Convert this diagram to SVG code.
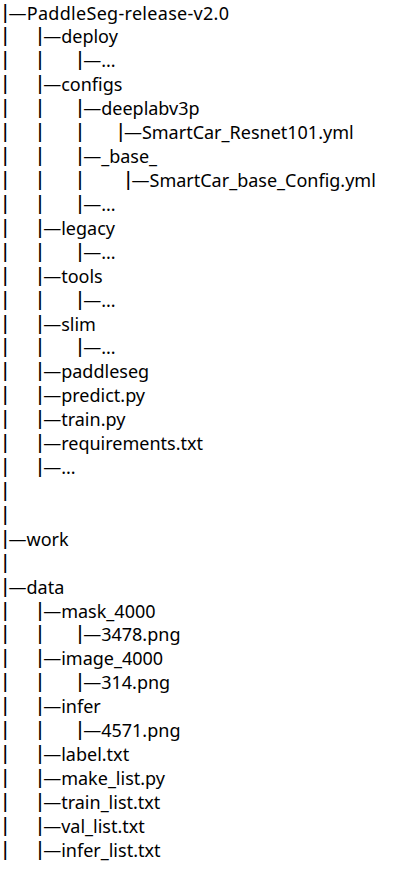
<svg xmlns="http://www.w3.org/2000/svg" width="401" height="872" viewBox="0 0 401 872">
<style>
text{font-family:"Noto Sans","Open Sans","DejaVu Sans",sans-serif;font-size:18px;fill:#000}
#connectors text{font-family:"Liberation Sans",Arial,sans-serif;font-size:21px}
</style>
<rect width="401" height="872" fill="#fff"/>
<g id="connectors" transform="translate(0,-1)">
<text y="19.5" x="2.6">|</text>
<text y="43.4" x="2.6">|<tspan x="37.3">|</tspan></text>
<text y="67.3" x="2.6">|<tspan x="37.3">|</tspan><tspan x="77.3">|</tspan></text>
<text y="91.3" x="2.6">|<tspan x="37.3">|</tspan></text>
<text y="115.2" x="2.6">|<tspan x="37.3">|</tspan><tspan x="77.3">|</tspan></text>
<text y="139.1" x="2.6">|<tspan x="37.3">|</tspan><tspan x="77.3">|</tspan><tspan x="118">|</tspan></text>
<text y="163.0" x="2.6">|<tspan x="37.3">|</tspan><tspan x="77.3">|</tspan></text>
<text y="186.9" x="2.6">|<tspan x="37.3">|</tspan><tspan x="77.3">|</tspan><tspan x="125.6">|</tspan></text>
<text y="210.9" x="2.6">|<tspan x="37.3">|</tspan><tspan x="77.3">|</tspan></text>
<text y="234.8" x="2.6">|<tspan x="37.3">|</tspan></text>
<text y="258.7" x="2.6">|<tspan x="37.3">|</tspan><tspan x="77.3">|</tspan></text>
<text y="282.6" x="2.6">|<tspan x="37.3">|</tspan></text>
<text y="306.5" x="2.6">|<tspan x="37.3">|</tspan><tspan x="77.3">|</tspan></text>
<text y="330.5" x="2.6">|<tspan x="37.3">|</tspan></text>
<text y="354.4" x="2.6">|<tspan x="37.3">|</tspan><tspan x="77.3">|</tspan></text>
<text y="378.3" x="2.6">|<tspan x="37.3">|</tspan></text>
<text y="402.2" x="2.6">|<tspan x="37.3">|</tspan></text>
<text y="426.1" x="2.6">|<tspan x="37.3">|</tspan></text>
<text y="450.1" x="2.6">|<tspan x="37.3">|</tspan></text>
<text y="474.0" x="2.6">|<tspan x="37.3">|</tspan></text>
<text y="497.9" x="2.6">|</text>
<text y="521.8" x="2.6">|</text>
<text y="545.7" x="2.6">|</text>
<text y="569.7" x="2.6">|</text>
<text y="593.6" x="2.6">|</text>
<text y="617.5" x="2.6">|<tspan x="37.3">|</tspan></text>
<text y="641.4" x="2.6">|<tspan x="37.3">|</tspan><tspan x="77.3">|</tspan></text>
<text y="665.3" x="2.6">|<tspan x="37.3">|</tspan></text>
<text y="689.3" x="2.6">|<tspan x="37.3">|</tspan><tspan x="77.3">|</tspan></text>
<text y="713.2" x="2.6">|<tspan x="37.3">|</tspan></text>
<text y="737.1" x="2.6">|<tspan x="37.3">|</tspan><tspan x="77.3">|</tspan></text>
<text y="761.0" x="2.6">|<tspan x="37.3">|</tspan></text>
<text y="784.9" x="2.6">|<tspan x="37.3">|</tspan></text>
<text y="808.9" x="2.6">|<tspan x="37.3">|</tspan></text>
<text y="832.8" x="2.6">|<tspan x="37.3">|</tspan></text>
<text y="856.7" x="2.6">|<tspan x="37.3">|</tspan></text>
</g>
<g id="n1"><text x="8.5" y="19.5" textLength="220.5" lengthAdjust="spacing">—PaddleSeg-release-v2.0</text></g>
<g id="n2"><text x="43.2" y="43.4">—deploy</text></g>
<g id="n3"><text x="83.2" y="67.3">—...</text></g>
<g id="n4"><text x="43.2" y="91.3">—configs</text></g>
<g id="n5"><text x="83.2" y="115.2">—deeplabv3p</text></g>
<g id="n6"><text x="123.9" y="139.1">—SmartCar_Resnet101.yml</text></g>
<g id="n7"><text x="83.2" y="163.0">—_base_</text></g>
<g id="n8"><text x="131.5" y="186.9">—SmartCar_base_Config.yml</text></g>
<g id="n9"><text x="83.2" y="210.9">—...</text></g>
<g id="n10"><text x="43.2" y="234.8">—legacy</text></g>
<g id="n11"><text x="83.2" y="258.7">—...</text></g>
<g id="n12"><text x="43.2" y="282.6">—tools</text></g>
<g id="n13"><text x="83.2" y="306.5">—...</text></g>
<g id="n14"><text x="43.2" y="330.5">—slim</text></g>
<g id="n15"><text x="83.2" y="354.4">—...</text></g>
<g id="n16"><text x="43.2" y="378.3">—paddleseg</text></g>
<g id="n17"><text x="43.2" y="402.2">—predict.py</text></g>
<g id="n18"><text x="43.2" y="426.1">—train.py</text></g>
<g id="n19"><text x="43.2" y="450.1">—requirements.txt</text></g>
<g id="n20"><text x="43.2" y="474.0">—...</text></g>
<g id="n23"><text x="8.5" y="545.7">—work</text></g>
<g id="n25"><text x="8.5" y="593.6">—data</text></g>
<g id="n26"><text x="43.2" y="617.5">—mask_4000</text></g>
<g id="n27"><text x="83.2" y="641.4">—3478.png</text></g>
<g id="n28"><text x="43.2" y="665.3">—image_4000</text></g>
<g id="n29"><text x="83.2" y="689.3">—314.png</text></g>
<g id="n30"><text x="43.2" y="713.2">—infer</text></g>
<g id="n31"><text x="83.2" y="737.1">—4571.png</text></g>
<g id="n32"><text x="43.2" y="761.0">—label.txt</text></g>
<g id="n33"><text x="43.2" y="784.9">—make_list.py</text></g>
<g id="n34"><text x="43.2" y="808.9">—train_list.txt</text></g>
<g id="n35"><text x="43.2" y="832.8">—val_list.txt</text></g>
<g id="n36"><text x="43.2" y="856.7">—infer_list.txt</text></g>
</svg>
